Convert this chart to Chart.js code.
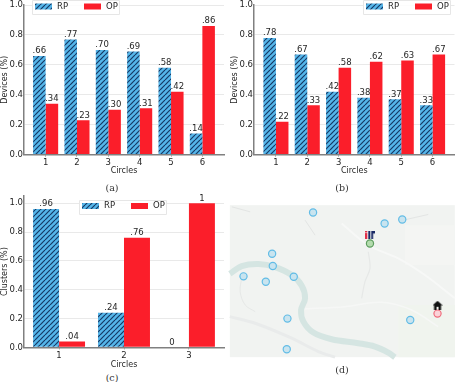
<!DOCTYPE html>
<html><head><meta charset="utf-8">
<script src="https://cdn.jsdelivr.net/npm/chart.js@4"></script>
<style>
html,body{margin:0;padding:0;background:#fff;width:474px;height:382px;overflow:hidden}
canvas{position:absolute;display:block}
.cap{position:absolute;font:9.5px "DejaVu Serif",serif;color:#333;transform:translateX(-50%);white-space:nowrap}
</style></head><body>
<canvas id="a" width="237" height="176" style="left:0;top:0"></canvas>
<canvas id="b" width="237" height="176" style="left:230px;top:0"></canvas>
<canvas id="c" width="237" height="180" style="left:0;top:190px"></canvas>
<canvas id="d" width="259" height="197" style="left:220px;top:190px;filter:blur(.5px)"></canvas>
<div class="cap" style="left:112px;top:182px">(a)</div>
<div class="cap" style="left:342px;top:182px">(b)</div>
<div class="cap" style="left:112px;top:372px">(c)</div>
<div class="cap" style="left:342px;top:364px">(d)</div>
<script>
// ---- chart values ----
const circlesSix = [1, 2, 3, 4, 5, 6];
const circlesThree = [1, 2, 3];
const rpA = [0.66, 0.77, 0.70, 0.69, 0.58, 0.14];
const opA = [0.34, 0.23, 0.30, 0.31, 0.42, 0.86];
const rpB = [0.78, 0.67, 0.42, 0.38, 0.37, 0.33];
const opB = [0.22, 0.33, 0.58, 0.62, 0.63, 0.67];
const rpC = [0.96, 0.24, 0];
const opC = [0.04, 0.76, 1];
// map values, in map units
const mapBlueX = [264, 479, 532, 141, 143, 55, 122, 206, 187, 185, 556];
const mapBlueY = [52, 85, 73, 176, 213, 244, 260, 245, 371, 463, 375];
const mapGreenX = [435], mapGreenY = [145];
const mapRedX = [638], mapRedY = [356];
const mapHomeX = [638], mapHomeY = [331];
const mapPoiX = [436], mapPoiY = [120];
const riverX = [14, 50, 100, 150, 200, 230, 240, 228, 235, 265, 320, 400, 450, 490, 510];
const riverY = [236, 213, 207, 216, 240, 272, 310, 345, 380, 413, 433, 445, 455, 473, 487];
const road1X = [14, 90, 200, 280, 330], road1Y = [365, 385, 430, 470, 487];
const road2X = [350, 430, 520, 600, 690], road2Y = [85, 150, 190, 240, 310];
const road3X = [230, 360, 470, 560, 640], road3Y = [342, 335, 322, 345, 395];
const road4X = [430, 435, 420, 410], road4Y = [170, 220, 260, 310];
const road5X = [50, 45, 60, 90], road5Y = [245, 290, 330, 350];
const road6X = [240, 270], road6Y = [75, 120];
const road7X = [20, 75], road7Y = [35, 50];
const road8X = [535, 610], road8Y = [75, 58];
const mapLeft = 14, mapRight = 690, mapTop = 30, mapBottom = 487;

const FONT = '"DejaVu Sans", sans-serif';
const INK = '#262626', SPINE = '#808080', GRID = '#e9e9e9';
const BLUE = '#55b6ea', NAVY = '#163a66', RED = '#fb1e2a';

function hatch() {
  const t = document.createElement('canvas'); t.width = 5; t.height = 5;
  const g = t.getContext('2d');
  g.fillStyle = BLUE; g.fillRect(0, 0, 5, 5);
  g.strokeStyle = NAVY; g.lineWidth = 1.2;
  for (const k of [-5, 0, 5]) { g.beginPath(); g.moveTo(k, 5); g.lineTo(k + 5, 0); g.stroke(); }
  return g.createPattern(t, 'repeat');
}
const pair = (xs, ys) => xs.map((x, i) => ({x, y: ys[i]}));
const fmt = v => v === 0 ? '0' : v === 1 ? '1' : String(v.toFixed(2)).replace(/^0/, '');

const barExtras = {
  id: 'barExtras',
  afterDatasetsDraw(chart, _a, o) {
    const c = chart.ctx; c.save();
    c.font = '8.5px ' + FONT; c.fillStyle = INK;
    c.textAlign = 'center'; c.textBaseline = 'bottom';
    chart.data.datasets.forEach((ds, i) => {
      chart.getDatasetMeta(i).data.forEach((el, j) => {
        const v = ds.data[j].y;
        c.fillText(fmt(v), el.x + (v === 0 ? -4 : 0), el.y - 0.5);
      });
    });
    // legend
    c.fillStyle = 'rgba(255,255,255,.85)'; c.strokeStyle = '#e6e6e6'; c.lineWidth = 1;
    c.beginPath(); c.rect(o.left + .5, o.top + .5, 87, o.h); c.fill(); c.stroke();
    c.textAlign = 'left'; c.textBaseline = 'middle';
    chart.data.datasets.forEach((ds, i) => {
      const x = o.left + 3 + i * 49;
      c.fillStyle = ds.backgroundColor; c.fillRect(x, o.sy, 17, 6);
      c.fillStyle = INK; c.fillText(ds.label, x + 22, o.sy + 3);
    });
    c.restore();
  }
};

function barChart(id, xs, rp, op, cfg) {
  return new Chart(document.getElementById(id), {
    type: 'bar',
    data: { datasets: [
      { label: 'RP', data: pair(xs, rp), backgroundColor: hatch(), borderWidth: 0, categoryPercentage: .8, barPercentage: 1 },
      { label: 'OP', data: pair(xs, op), backgroundColor: RED, borderWidth: 0, categoryPercentage: .8, barPercentage: 1 }
    ]},
    plugins: [barExtras],
    options: {
      responsive: false, animation: false,
      layout: { padding: { top: cfg.top, right: cfg.right, left: 0, bottom: 0 } },
      plugins: { legend: { display: false }, tooltip: { enabled: false }, barExtras: cfg.legend },
      scales: {
        x: {
          type: 'linear', offset: false, min: cfg.xmin, max: cfg.xmax,
          afterFit: s => { s.height = cfg.xh; },
          grid: { offset: false, drawOnChartArea: false, drawTicks: true, tickLength: 2, tickColor: SPINE },
          border: { color: SPINE, width: 1.5 },
          ticks: { stepSize: 1, includeBounds: false, color: INK, padding: 1, maxRotation: 0, font: { family: FONT, size: 8.5 }, callback: v => String(v) },
          title: { display: true, text: 'Circles', color: INK, padding: 0, font: { family: FONT, size: 8 } }
        },
        y: {
          min: 0, max: cfg.ymax,
          afterFit: s => { s.width = 24; },
          grid: { color: GRID, lineWidth: 1, tickLength: 1, tickColor: SPINE },
          border: { color: SPINE, width: 1.5 },
          ticks: { stepSize: .2, includeBounds: false, color: INK, padding: 0, font: { family: FONT, size: 8.5 }, callback: v => v.toFixed(1) },
          title: { display: true, text: cfg.ytitle, color: INK, padding: 0, font: { family: FONT, size: 8 } }
        }
      }
    }
  });
}

barChart('a', circlesSix, rpA, opA, { top: 3.5, right: 13, xmin: .31, xmax: 6.69, ymax: 1, xh: 21.5, ytitle: 'Devices (%)',
  legend: { left: 32, top: 0, h: 14, sy: 3.5 } });
barChart('b', circlesSix, rpB, opB, { top: 3.5, right: 12.5, xmin: .3, xmax: 6.7, ymax: 1, xh: 21.5, ytitle: 'Devices (%)',
  legend: { left: 133, top: 0, h: 14, sy: 3.5 } });
barChart('c', circlesThree, rpC, opC, { top: 6, right: 13, xmin: .46, xmax: 3.54, ymax: 1.05, xh: 22.7, ytitle: 'Clusters (%)',
  legend: { left: 79, top: 10, h: 14, sy: 13 } });

// icons for the map markers
function homeIcon() {
  const t = document.createElement('canvas'); t.width = 10; t.height = 9;
  const g = t.getContext('2d'); g.fillStyle = '#111';
  g.beginPath(); g.moveTo(0, 4.5); g.lineTo(5, 0); g.lineTo(10, 4.5); g.lineTo(8.5, 4.5); g.lineTo(8.5, 9);
  g.lineTo(6, 9); g.lineTo(6, 6); g.lineTo(4, 6); g.lineTo(4, 9); g.lineTo(1.5, 9); g.lineTo(1.5, 4.5); g.closePath(); g.fill();
  return t;
}
function poiIcon() {
  const t = document.createElement('canvas'); t.width = 10; t.height = 8;
  const g = t.getContext('2d');
  g.fillStyle = '#e0304a'; g.fillRect(0, 2, 2, 6); g.fillRect(0, 0, 2, 1.4);
  g.fillStyle = '#1a2a66'; g.fillRect(3, 0, 2, 8); g.fillRect(6, 0, 1.8, 8); g.fillRect(6, 0, 4, 2.4);
  return t;
}
const line = (xs, ys, color, w) => ({ type: 'scatter', showLine: true, data: pair(xs, ys), borderColor: color, borderWidth: w, pointRadius: 0, tension: .35 });
const mark = (xs, ys, fill, edge) => ({ type: 'scatter', data: pair(xs, ys), backgroundColor: fill, borderColor: edge, borderWidth: 1.2, pointRadius: 3.6 });
const icon = (xs, ys, img) => ({ type: 'scatter', data: pair(xs, ys), pointStyle: img, pointRadius: 5, borderWidth: 0 });

const mapGround = {
  id: 'mapGround',
  beforeDatasetsDraw(chart) {
    const {x, y} = chart.scales, c = chart.ctx;
    const l = x.getPixelForValue(mapLeft), r = x.getPixelForValue(mapRight);
    const t = y.getPixelForValue(mapTop), b = y.getPixelForValue(mapBottom);
    c.save();
    c.fillStyle = '#f1f3f1'; c.fillRect(l, t, r - l, b - t);
    c.fillStyle = '#f4f5f3';
    c.fillRect(x.getPixelForValue(540), y.getPixelForValue(90), r - x.getPixelForValue(540), y.getPixelForValue(210) - y.getPixelForValue(90));
    c.fillStyle = '#f0f4ee';
    c.fillRect(x.getPixelForValue(520), y.getPixelForValue(330), r - x.getPixelForValue(520), b - y.getPixelForValue(330));
    c.restore();
  }
};

// Chart.js paints the first dataset last, so the markers come first
new Chart(document.getElementById('d'), {
  type: 'scatter',
  data: { datasets: [
    icon(mapHomeX, mapHomeY, homeIcon()),
    icon(mapPoiX, mapPoiY, poiIcon()),
    mark(mapBlueX, mapBlueY, '#c9e4ef', '#62bce6'),
    mark(mapGreenX, mapGreenY, '#b4dcae', '#5e9e60'),
    mark(mapRedX, mapRedY, '#fbd3d8', '#ee6c7c'),
    line(riverX, riverY, '#d5e5e2', 6),
    line(road1X, road1Y, '#e9ebeb', 3),
    line(road2X, road2Y, '#f7f8f7', 2),
    line(road3X, road3Y, '#f6f7f6', 1.5),
    line(road4X, road4Y, '#e6e8e7', 1.2),
    line(road5X, road5Y, '#e6e8e7', 1),
    line(road6X, road6Y, '#e3e5e4', 1),
    line(road7X, road7Y, '#e3e5e4', 1),
    line(road8X, road8Y, '#e3e5e4', 1)
  ]},
  plugins: [mapGround],
  options: {
    responsive: false, animation: false,
    plugins: { legend: { display: false }, tooltip: { enabled: false } },
    layout: { padding: 0 },
    scales: {
      x: { display: false, min: 0, max: 747 },
      y: { display: false, min: 0, max: 561, reverse: true }
    }
  }
});
</script>
</body></html>
